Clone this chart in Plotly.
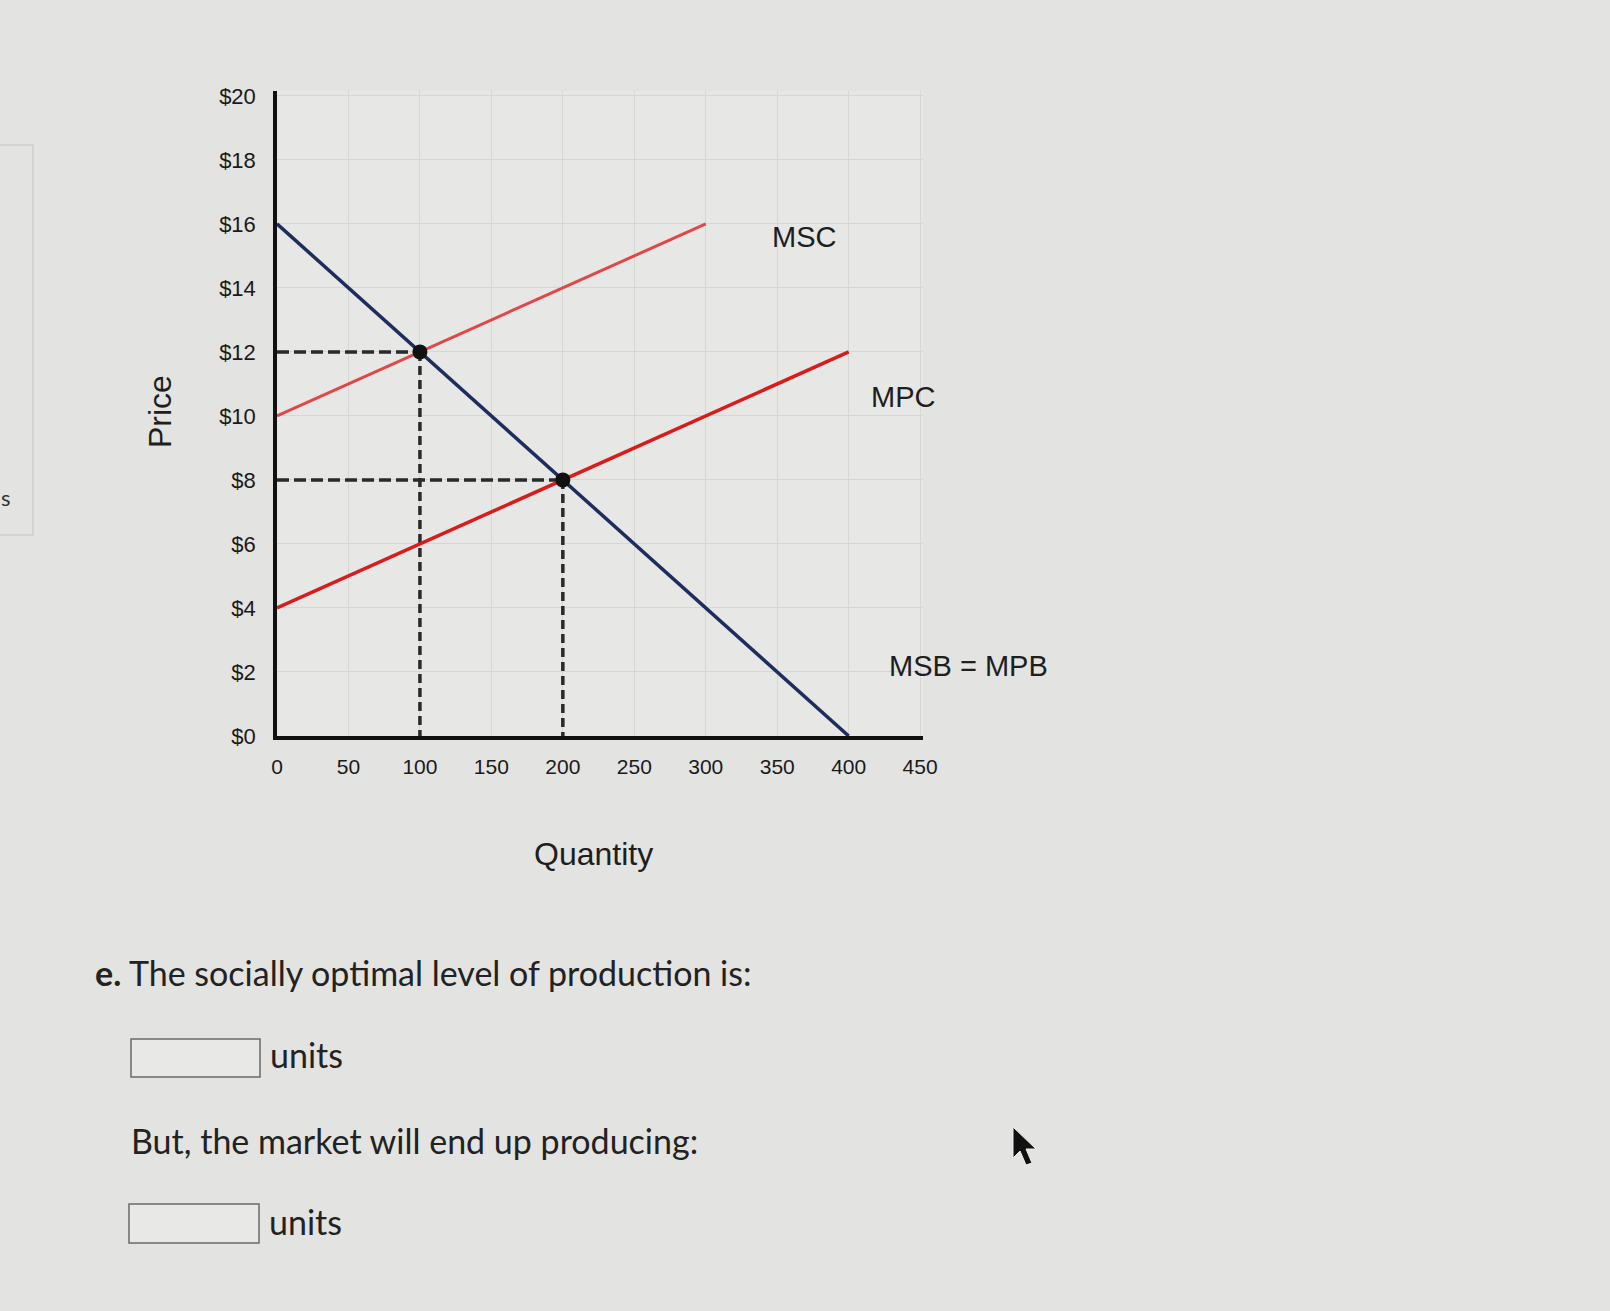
import plotly.graph_objects as go

# ---- data ----
quantity_ticks = [0, 50, 100, 150, 200, 250, 300, 350, 400, 450]
price_ticks = [0, 2, 4, 6, 8, 10, 12, 14, 16, 18, 20]
price_labels = ["$" + str(p) for p in price_ticks]

msb_q = [0, 400]
msb_p = [16, 0]
mpc_q = [0, 400]
mpc_p = [4, 12]
msc_q = [0, 300]
msc_p = [10, 16]

eq_q = [100, 200]
eq_p = [12, 8]

curve_labels = ["MSC", "MPC", "MSB = MPB"]
curve_label_q = [369, 438, 484]
curve_label_p = [15.6, 10.6, 2.2]

# ---- layout geometry (pixels) ----
W, H = 1610, 1311
L, R, T, B = 277, 923, 91, 736
XMAX, YMAX = 452, 20.15


def px(x):
    return (x - L) / (R - L)


def py(y):
    return (B - y) / (B - T)


def dq(q):  # data x -> paper
    return q / XMAX


def dp(p):  # data y -> paper
    return p / YMAX


fig = go.Figure()

# dashed guides from the equilibrium points
for q, p in zip(eq_q, eq_p):
    fig.add_trace(go.Scatter(x=[0, q], y=[p, p], mode="lines",
                             line=dict(color="#2a2a2a", width=3.5, dash="12px,5px"),
                             hoverinfo="skip", showlegend=False))
    fig.add_trace(go.Scatter(x=[q, q], y=[p, 0], mode="lines",
                             line=dict(color="#2a2a2a", width=3.5, dash="9px,5px"),
                             hoverinfo="skip", showlegend=False))

fig.add_trace(go.Scatter(x=msc_q, y=msc_p, mode="lines",
                         line=dict(color="#e04848", width=3), showlegend=False))
fig.add_trace(go.Scatter(x=mpc_q, y=mpc_p, mode="lines",
                         line=dict(color="#d81c1c", width=3.5), showlegend=False))
fig.add_trace(go.Scatter(x=msb_q, y=msb_p, mode="lines",
                         line=dict(color="#1c2d5e", width=3.5), showlegend=False))
fig.add_trace(go.Scatter(x=eq_q, y=eq_p, mode="markers",
                         marker=dict(color="#111111", size=15), showlegend=False,
                         cliponaxis=False))

for t, q, p in zip(curve_labels, curve_label_q, curve_label_p):
    fig.add_annotation(x=dq(q), y=dp(p), xref="paper", yref="paper", text=t,
                       showarrow=False, xanchor="center", yanchor="middle",
                       font=dict(family="Liberation Sans", size=29, color="#1e1e1e"))

# axis titles
fig.add_annotation(x=px(593), y=py(854), xref="paper", yref="paper", text="Quantity",
                   showarrow=False, xanchor="center", yanchor="middle",
                   font=dict(family="Liberation Sans", size=32, color="#1e1e1e"))
fig.add_annotation(x=px(160), y=py(412), xref="paper", yref="paper", text="Price",
                   textangle=-90, showarrow=False, xanchor="center", yanchor="middle",
                   font=dict(family="Liberation Sans", size=32, color="#1e1e1e"))

# question text
fig.add_annotation(x=px(93), y=py(972), xref="paper", yref="paper", xanchor="left",
                   yanchor="middle",
                   text="<b>e.</b> The socially optimal level of production is:",
                   showarrow=False, font=dict(family="Lato", size=34, color="#222222"))
fig.add_annotation(x=px(129), y=py(1140), xref="paper", yref="paper", xanchor="left",
                   yanchor="middle",
                   text="But, the market will end up producing:",
                   showarrow=False, font=dict(family="Lato", size=34, color="#222222"))
for ux, uy in [(268, 1054), (267, 1221)]:
    fig.add_annotation(x=px(ux), y=py(uy), xref="paper", yref="paper", xanchor="left",
                       yanchor="middle", text="units", showarrow=False,
                       font=dict(family="Lato", size=34, color="#222222"))

# input boxes
for x0, y0, x1, y1 in [(131, 1039, 260, 1077), (129, 1204, 259, 1243)]:
    fig.add_shape(type="rect", xref="paper", yref="paper",
                  x0=px(x0), x1=px(x1), y0=py(y0), y1=py(y1),
                  line=dict(color="#6a6a6a", width=1.5), fillcolor="#e8e8e6")

# left edge panel and stray letter
fig.add_shape(type="path", xref="paper", yref="paper",
              path=f"M {px(0)},{py(145)} L {px(33)},{py(145)} L {px(33)},{py(535)} L {px(0)},{py(535)}",
              line=dict(color="#cfcfcd", width=1.5))
fig.add_annotation(x=px(6), y=py(498), xref="paper", yref="paper", text="s",
                   xanchor="center", yanchor="middle",
                   showarrow=False, font=dict(family="Lato", size=22, color="#333333"))

# mouse cursor
cx, cy = 1013, 1127
pts = [(0, 0), (0, 31), (7, 24), (13, 38), (19, 36), (13, 22), (23, 22)]
path = "M " + " L ".join(f"{px(cx + a)},{py(cy + b)}" for a, b in pts) + " Z"
fig.add_shape(type="path", xref="paper", yref="paper", path=path,
              fillcolor="#111111", line=dict(color="#eeeeee", width=1))

fig.update_xaxes(range=[0, XMAX], tickvals=quantity_ticks, ticktext=[str(q) for q in quantity_ticks],
                 showgrid=True, gridcolor="#d6d6d4", gridwidth=1, zeroline=False,
                 showline=True, linecolor="#111111", linewidth=3.5,
                 ticks="", ticklabelstandoff=9,
                 tickfont=dict(family="Liberation Sans", size=21, color="#1a1a1a"))
fig.update_yaxes(range=[0, YMAX], tickvals=price_ticks, ticktext=price_labels,
                 showgrid=True, gridcolor="#d6d6d4", gridwidth=1, zeroline=False,
                 showline=True, linecolor="#111111", linewidth=3.5,
                 ticks="", ticklabelstandoff=13,
                 tickfont=dict(family="Liberation Sans", size=22, color="#1a1a1a"))

fig.update_layout(width=W, height=H,
                  margin=dict(l=L, r=W - R, t=T, b=H - B, pad=0),
                  paper_bgcolor="#e3e3e1", plot_bgcolor="#e7e7e5",
                  showlegend=False)

fig.write_html("out.html")
